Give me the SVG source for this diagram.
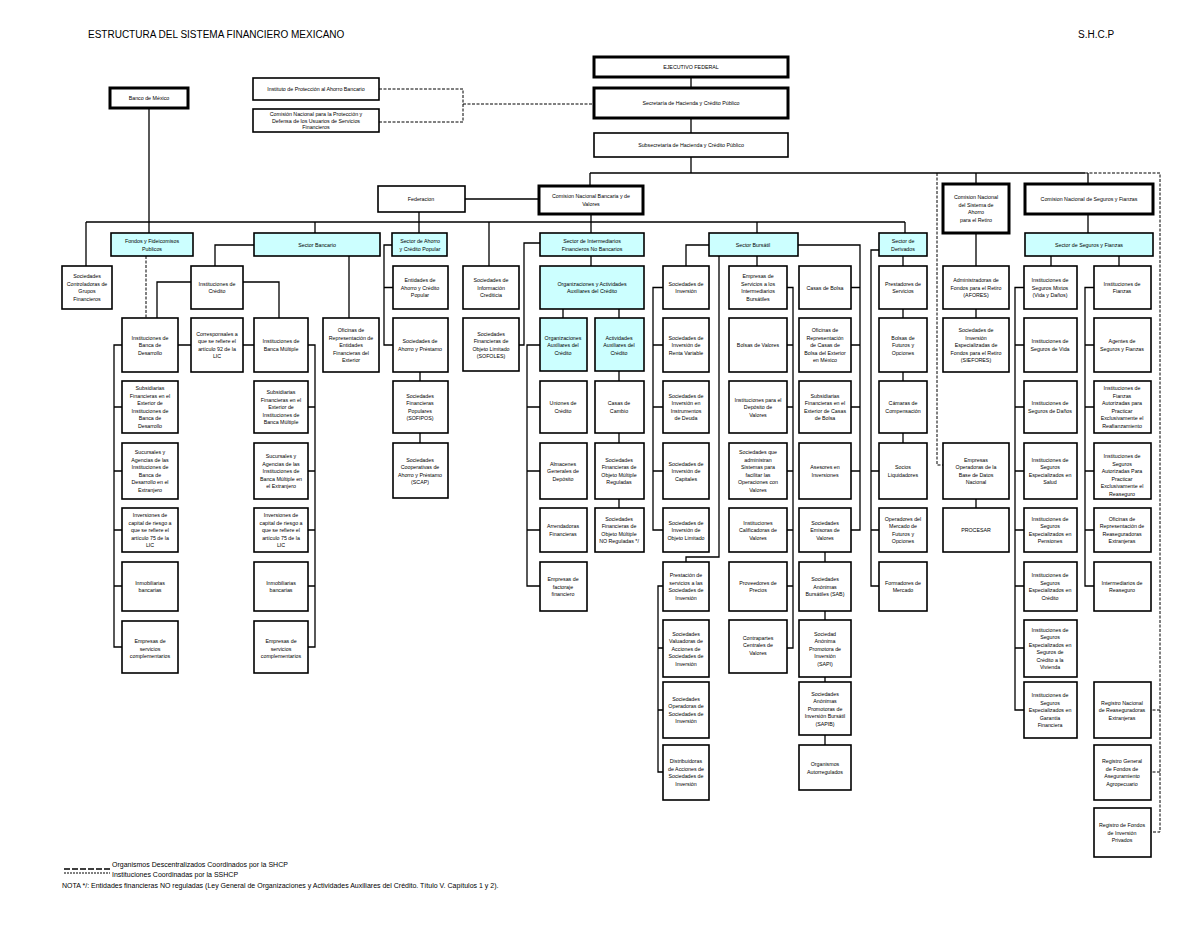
<svg xmlns="http://www.w3.org/2000/svg" width="1200" height="927" viewBox="0 0 1200 927">
<style>
rect{fill:#fff;stroke:#000;stroke-width:1.6}
rect.c{fill:#ccffff}
rect.k{stroke-width:3}
text{font-family:"Liberation Sans",Arial,sans-serif;font-size:5.3px;text-anchor:middle;fill:#000}
.h{font-size:10px;text-anchor:start}
.l{font-size:7px;text-anchor:start}
#conn path{fill:none;stroke:#000;stroke-width:1.3}
#conn path.d{stroke-dasharray:3,1.5;stroke-width:1}
</style>
<rect x="0" y="0" width="1200" height="927" style="fill:#fff;stroke:none"/>
<text class="h" x="88" y="38">ESTRUCTURA DEL SISTEMA FINANCIERO MEXICANO</text>
<text class="h" x="1078" y="38">S.H.C.P</text>
<g id="conn">
<path d="M691,77V88M691,118V133M691,157V173M590,173H1085M590,173V186M976,173V184M1088,173V184M465,199H539M419,212V222M591,214V222M86,222H905M86,222V266M149,108V233M315,222V233M419,222V233M489,222V266M591,222V233M757,222V233M905,222V233"/>
<path class="d" d="M146,256V318M379,89H463V122H379M463,104H594M937,173V465H943M1085,173H1160V832H1151M1160,710H1151M1160,772H1151"/>
<path d="M254,245H215V266M349,256V318M191,282H157V318M241,282H279V318M178,345H191M243,345H254"/>
<path d="M122,345H114V647H122M114,407H122M114,471H122M114,530H122M114,586H122"/>
<path d="M308,345H315V647H308M315,407H308M315,471H308M315,530H308M315,586H308"/>
<path d="M392,245H384V345H393M384,287.5H393M420,372V381M420,433V443"/>
<path d="M540,243H524V345H519M591,256V266M563,309V318M619,309V318M540,345H527V586H540M527,407H540M527,471H540M527,530H540M619,371V381M619,433V443M619,499V508"/>
<path d="M709,245H686V266M663,287.5H653V530H663M653,345H663M653,407H663M653,471H663M719,256V557H686V562M663,586H658V772H663M658,648H663M658,710H663"/>
<path d="M757,256V266M787,287.5H793V648H787M793,345H787M793,407H787M793,471H787M793,530H787M793,586H787"/>
<path d="M798,245H860V530H851M860,287.5H851M860,345H851M860,407H851M860,471H851M825,552V562M825,611V620M825,677V682M825,735V745"/>
<path d="M903,256V266M903,309V318M903,372V381M903,433V443M879,250H871V586H879M871,471H879M871,530H879"/>
<path d="M976,233V266M976,309V318M976,499V508"/>
<path d="M1088,214V233M1051,256V266M1119,256V266M1024,287.5H1015V710H1024M1015,345H1024M1015,407H1024M1015,471H1024M1015,530H1024M1015,586H1024M1015,648H1024M1094,287.5H1085V586H1094M1085,345H1094M1085,407H1094M1085,471H1094M1085,530H1094"/>
</g>
<g id="ejecutivo"><rect class="k" x="594" y="57" width="194" height="20"/><text x="691" y="69">EJECUTIVO FEDERAL</text></g>
<g id="shcp"><rect class="k" x="594" y="88" width="194" height="30"/><text x="691" y="105">Secretaría de Hacienda y Crédito Público</text></g>
<g id="subshcp"><rect x="594" y="133" width="194" height="24"/><text x="691" y="147">Subsecretaría de Hacienda y Crédito Público</text></g>
<g id="ipab"><rect x="253" y="78" width="126" height="22"/><text x="316" y="91">Instituto de Protección al Ahorro Bancario</text></g>
<g id="condusef"><rect x="253" y="109" width="126" height="23"/><text x="316" y="116">Comisión Nacional para la Protección y<tspan x="316" dy="6.5">Defensa de los Usuarios de Servicios</tspan><tspan x="316" dy="6.5">Financieros</tspan></text></g>
<g id="banxico"><rect class="k" x="110" y="88" width="78" height="20"/><text x="149" y="100">Banco de México</text></g>
<g id="federacion"><rect x="378" y="186" width="87" height="26"/><text x="421" y="201">Federacion</text></g>
<g id="cnbv"><rect class="k" x="539" y="186" width="104" height="28"/><text x="591" y="198">Comision Nacional Bancaria y de<tspan x="591" dy="7.5">Valores</tspan></text></g>
<g id="consar"><rect class="k" x="943" y="184" width="66" height="49"/><text x="976" y="199">Comision Nacional<tspan x="976" dy="7.5">del Sistema de</tspan><tspan x="976" dy="7.5">Ahorro</tspan><tspan x="976" dy="7.5">para el Retiro</tspan></text></g>
<g id="cnsf"><rect class="k" x="1025" y="184" width="128" height="30"/><text x="1089" y="201">Comision Nacional de Seguros y Fianzas</text></g>

<g id="fondos"><rect class="c" x="111" y="233" width="82" height="23"/><text x="152" y="243">Fondos y Fideicomisos<tspan x="152" dy="7.5">Publicos</tspan></text></g>
<g id="sbancario"><rect class="c" x="254" y="233" width="126" height="23"/><text x="317" y="247">Sector Bancario</text></g>
<g id="sahorro"><rect class="c" x="392" y="233" width="55" height="23"/><text x="420" y="243">Sector de Ahorro<tspan x="420" dy="7.5">y Crédito Popular</tspan></text></g>
<g id="sinter"><rect class="c" x="540" y="233" width="104" height="23"/><text x="592" y="243">Sector de Intermediarios<tspan x="592" dy="7.5">Financieros No Bancarios</tspan></text></g>
<g id="sbursatil"><rect class="c" x="709" y="233" width="89" height="23"/><text x="753" y="247">Sector Bursátil</text></g>
<g id="sderiv"><rect class="c" x="879" y="233" width="48" height="23"/><text x="903" y="243">Sector de<tspan x="903" dy="7.5">Derivados</tspan></text></g>
<g id="sseguros"><rect class="c" x="1025" y="233" width="128" height="23"/><text x="1089" y="247">Sector de Seguros y Fianzas</text></g>

<g id="controladoras"><rect x="62" y="266" width="50" height="43"/><text x="87" y="278">Sociedades<tspan x="87" dy="7.5">Controladoras de</tspan><tspan x="87" dy="7.5">Grupos</tspan><tspan x="87" dy="7.5">Financieros</tspan></text></g>
<g id="icredito"><rect x="191" y="266" width="52" height="43"/><text x="217" y="285.75">Instituciones de<tspan x="217" dy="7.5">Crédito</tspan></text></g>
<g id="bdesarrollo"><rect x="122" y="318" width="56" height="54"/><text x="150" y="339.5">Instituciones de<tspan x="150" dy="7.5">Banca de</tspan><tspan x="150" dy="7.5">Desarrollo</tspan></text></g>
<g id="corresponsales"><rect x="191" y="318" width="52" height="54"/><text x="217" y="335.75">Corresponsales a<tspan x="217" dy="7.5">que se refiere el</tspan><tspan x="217" dy="7.5">artículo 92 de la</tspan><tspan x="217" dy="7.5">LIC</tspan></text></g>
<g id="bmultiple"><rect x="254" y="318" width="54" height="54"/><text x="281" y="343.25">Instituciones de<tspan x="281" dy="7.5">Banca Múltiple</tspan></text></g>
<g id="oficinasbanc"><rect x="323" y="318" width="56" height="54"/><text x="351" y="332">Oficinas de<tspan x="351" dy="7.5">Representación de</tspan><tspan x="351" dy="7.5">Entidades</tspan><tspan x="351" dy="7.5">Financieras del</tspan><tspan x="351" dy="7.5">Exterior</tspan></text></g>

<g id="bd1"><rect x="122" y="381" width="56" height="52"/><text x="150" y="390.25">Subsidiarias<tspan x="150" dy="7.5">Financieras en el</tspan><tspan x="150" dy="7.5">Exterior de</tspan><tspan x="150" dy="7.5">Instituciones de</tspan><tspan x="150" dy="7.5">Banca de</tspan><tspan x="150" dy="7.5">Desarrollo</tspan></text></g>
<g id="bd2"><rect x="122" y="443" width="56" height="56"/><text x="150" y="454.25">Sucursales y<tspan x="150" dy="7.5">Agencias de las</tspan><tspan x="150" dy="7.5">Instituciones de</tspan><tspan x="150" dy="7.5">Banca de</tspan><tspan x="150" dy="7.5">Desarrollo en el</tspan><tspan x="150" dy="7.5">Extranjero</tspan></text></g>
<g id="bd3"><rect x="122" y="508" width="56" height="44"/><text x="150" y="517">Inversiones de<tspan x="150" dy="7.5">capital de riesgo a</tspan><tspan x="150" dy="7.5">que se refiere el</tspan><tspan x="150" dy="7.5">artículo 75 de la</tspan><tspan x="150" dy="7.5">LIC</tspan></text></g>
<g id="bd4"><rect x="122" y="562" width="56" height="49"/><text x="150" y="584.75">Inmobiliarias<tspan x="150" dy="7.5">bancarias</tspan></text></g>
<g id="bd5"><rect x="122" y="621" width="56" height="52"/><text x="150" y="643">Empresas de<tspan x="150" dy="7.5">servicios</tspan><tspan x="150" dy="7.5">complementarios</tspan></text></g>

<g id="bm1"><rect x="254" y="381" width="54" height="52"/><text x="281" y="394">Subsidiarias<tspan x="281" dy="7.5">Financieras en el</tspan><tspan x="281" dy="7.5">Exterior de</tspan><tspan x="281" dy="7.5">Instituciones de</tspan><tspan x="281" dy="7.5">Banca Múltiple</tspan></text></g>
<g id="bm2"><rect x="254" y="443" width="54" height="56"/><text x="281" y="458">Sucursales y<tspan x="281" dy="7.5">Agencias de las</tspan><tspan x="281" dy="7.5">Instituciones de</tspan><tspan x="281" dy="7.5">Banca Múltiple en</tspan><tspan x="281" dy="7.5">el Extranjero</tspan></text></g>
<g id="bm3"><rect x="254" y="508" width="54" height="44"/><text x="281" y="517">Inversiones de<tspan x="281" dy="7.5">capital de riesgo a</tspan><tspan x="281" dy="7.5">que se refiere el</tspan><tspan x="281" dy="7.5">artículo 75 de la</tspan><tspan x="281" dy="7.5">LIC</tspan></text></g>
<g id="bm4"><rect x="254" y="562" width="54" height="49"/><text x="281" y="584.75">Inmobiliarias<tspan x="281" dy="7.5">bancarias</tspan></text></g>
<g id="bm5"><rect x="254" y="621" width="54" height="52"/><text x="281" y="643">Empresas de<tspan x="281" dy="7.5">servicios</tspan><tspan x="281" dy="7.5">complementarios</tspan></text></g>

<g id="ah1"><rect x="393" y="266" width="55" height="43"/><text x="420" y="282">Entidades de<tspan x="420" dy="7.5">Ahorro y Crédito</tspan><tspan x="420" dy="7.5">Popular</tspan></text></g>
<g id="ah2"><rect x="393" y="318" width="55" height="54"/><text x="420" y="343.25">Sociedades de<tspan x="420" dy="7.5">Ahorro y Préstamo</tspan></text></g>
<g id="ah3"><rect x="393" y="381" width="55" height="52"/><text x="420" y="397.75">Sociedades<tspan x="420" dy="7.5">Financieras</tspan><tspan x="420" dy="7.5">Populares</tspan><tspan x="420" dy="7.5">(SOFIPOS)</tspan></text></g>
<g id="ah4"><rect x="393" y="443" width="55" height="55"/><text x="420" y="461.75">Sociedades<tspan x="420" dy="7.5">Cooperativas de</tspan><tspan x="420" dy="7.5">Ahorro y Préstamo</tspan><tspan x="420" dy="7.5">(SCAP)</tspan></text></g>

<g id="sic"><rect x="463" y="266" width="56" height="43"/><text x="491" y="282">Sociedades de<tspan x="491" dy="7.5">Información</tspan><tspan x="491" dy="7.5">Crediticia</tspan></text></g>
<g id="sofoles"><rect x="463" y="318" width="56" height="53"/><text x="491" y="335.75">Sociedades<tspan x="491" dy="7.5">Financieras de</tspan><tspan x="491" dy="7.5">Objeto Limitado</tspan><tspan x="491" dy="7.5">(SOFOLES)</tspan></text></g>

<g id="orgact"><rect class="c" x="540" y="266" width="104" height="43"/><text x="592" y="285.75">Organizaciones y Actividades<tspan x="592" dy="7.5">Auxiliares del Crédito</tspan></text></g>
<g id="org"><rect class="c" x="540" y="318" width="47" height="53"/><text x="563" y="339.5">Organizaciones<tspan x="563" dy="7.5">Auxiliares del</tspan><tspan x="563" dy="7.5">Crédito</tspan></text></g>
<g id="act"><rect class="c" x="595" y="318" width="49" height="53"/><text x="619" y="339.5">Actividades<tspan x="619" dy="7.5">Auxiliares del</tspan><tspan x="619" dy="7.5">Crédito</tspan></text></g>
<g id="org1"><rect x="540" y="381" width="47" height="52"/><text x="563" y="405.25">Uniones de<tspan x="563" dy="7.5">Crédito</tspan></text></g>
<g id="org2"><rect x="540" y="443" width="47" height="56"/><text x="563" y="465.5">Almacenes<tspan x="563" dy="7.5">Generales de</tspan><tspan x="563" dy="7.5">Depósito</tspan></text></g>
<g id="org3"><rect x="540" y="508" width="47" height="44"/><text x="563" y="528.25">Arrendadoras<tspan x="563" dy="7.5">Financieras</tspan></text></g>
<g id="org4"><rect x="540" y="562" width="47" height="49"/><text x="563" y="581">Empresas de<tspan x="563" dy="7.5">factoraje</tspan><tspan x="563" dy="7.5">financiero</tspan></text></g>
<g id="act1"><rect x="595" y="381" width="49" height="52"/><text x="619" y="405.25">Casas de<tspan x="619" dy="7.5">Cambio</tspan></text></g>
<g id="act2"><rect x="595" y="443" width="49" height="56"/><text x="619" y="461.75">Sociedades<tspan x="619" dy="7.5">Financieras de</tspan><tspan x="619" dy="7.5">Objeto Múltiple</tspan><tspan x="619" dy="7.5">Reguladas</tspan></text></g>
<g id="act3"><rect x="595" y="508" width="49" height="44"/><text x="619" y="520.75">Sociedades<tspan x="619" dy="7.5">Financieras de</tspan><tspan x="619" dy="7.5">Objeto Múltiple</tspan><tspan x="619" dy="7.5">NO Reguladas */</tspan></text></g>

<g id="ba1"><rect x="663" y="266" width="46" height="43"/><text x="686" y="285.75">Sociedades de<tspan x="686" dy="7.5">Inversión</tspan></text></g>
<g id="ba2"><rect x="663" y="318" width="46" height="54"/><text x="686" y="339.5">Sociedades de<tspan x="686" dy="7.5">Inversión de</tspan><tspan x="686" dy="7.5">Renta Variable</tspan></text></g>
<g id="ba3"><rect x="663" y="381" width="46" height="52"/><text x="686" y="397.75">Sociedades de<tspan x="686" dy="7.5">Inversión en</tspan><tspan x="686" dy="7.5">Instrumentos</tspan><tspan x="686" dy="7.5">de Deuda</tspan></text></g>
<g id="ba4"><rect x="663" y="443" width="46" height="56"/><text x="686" y="465.5">Sociedades de<tspan x="686" dy="7.5">Inversión de</tspan><tspan x="686" dy="7.5">Capitales</tspan></text></g>
<g id="ba5"><rect x="663" y="508" width="46" height="44"/><text x="686" y="524.5">Sociedades de<tspan x="686" dy="7.5">Inversión de</tspan><tspan x="686" dy="7.5">Objeto Limitado</tspan></text></g>
<g id="ba6"><rect x="663" y="562" width="46" height="49"/><text x="686" y="577.25">Prestación de<tspan x="686" dy="7.5">servicios a las</tspan><tspan x="686" dy="7.5">Sociedades de</tspan><tspan x="686" dy="7.5">Inversión</tspan></text></g>
<g id="ba7"><rect x="663" y="620" width="46" height="57"/><text x="686" y="635.5">Sociedades<tspan x="686" dy="7.5">Valuadoras de</tspan><tspan x="686" dy="7.5">Acciones de</tspan><tspan x="686" dy="7.5">Sociedades de</tspan><tspan x="686" dy="7.5">Inversión</tspan></text></g>
<g id="ba8"><rect x="663" y="682" width="46" height="56"/><text x="686" y="700.75">Sociedades<tspan x="686" dy="7.5">Operadoras de</tspan><tspan x="686" dy="7.5">Sociedades de</tspan><tspan x="686" dy="7.5">Inversión</tspan></text></g>
<g id="ba9"><rect x="663" y="745" width="46" height="55"/><text x="686" y="763.25">Distribuidoras<tspan x="686" dy="7.5">de Acciones de</tspan><tspan x="686" dy="7.5">Sociedades de</tspan><tspan x="686" dy="7.5">Inversión</tspan></text></g>

<g id="bb1"><rect x="729" y="266" width="58" height="43"/><text x="758" y="278.25">Empresas de<tspan x="758" dy="7.5">Servicios a los</tspan><tspan x="758" dy="7.5">Intermediarios</tspan><tspan x="758" dy="7.5">Bursátiles</tspan></text></g>
<g id="bb2"><rect x="729" y="318" width="58" height="54"/><text x="758" y="347">Bolsas de Valores</text></g>
<g id="bb3"><rect x="729" y="381" width="58" height="52"/><text x="758" y="401.5">Instituciones para el<tspan x="758" dy="7.5">Depósito de</tspan><tspan x="758" dy="7.5">Valores</tspan></text></g>
<g id="bb4"><rect x="729" y="443" width="58" height="56"/><text x="758" y="454.25">Sociedades que<tspan x="758" dy="7.5">administran</tspan><tspan x="758" dy="7.5">Sistemas para</tspan><tspan x="758" dy="7.5">facilitar las</tspan><tspan x="758" dy="7.5">Operaciones con</tspan><tspan x="758" dy="7.5">Valores</tspan></text></g>
<g id="bb5"><rect x="729" y="508" width="58" height="44"/><text x="758" y="524.5">Instituciones<tspan x="758" dy="7.5">Calificadoras de</tspan><tspan x="758" dy="7.5">Valores</tspan></text></g>
<g id="bb6"><rect x="729" y="562" width="58" height="49"/><text x="758" y="584.75">Proveedores de<tspan x="758" dy="7.5">Precios</tspan></text></g>
<g id="bb7"><rect x="729" y="620" width="58" height="53"/><text x="758" y="639.5">Contrapartes<tspan x="758" dy="7.5">Centrales de</tspan><tspan x="758" dy="7.5">Valores</tspan></text></g>

<g id="bc1"><rect x="799" y="266" width="52" height="43"/><text x="825" y="289.5">Casas de Bolsa</text></g>
<g id="bc2"><rect x="799" y="318" width="52" height="54"/><text x="825" y="332">Oficinas de<tspan x="825" dy="7.5">Representación</tspan><tspan x="825" dy="7.5">de Casas de</tspan><tspan x="825" dy="7.5">Bolsa del Exterior</tspan><tspan x="825" dy="7.5">en México</tspan></text></g>
<g id="bc3"><rect x="799" y="381" width="52" height="52"/><text x="825" y="397.75">Subsidiarias<tspan x="825" dy="7.5">Financieras en el</tspan><tspan x="825" dy="7.5">Exterior de Casas</tspan><tspan x="825" dy="7.5">de Bolsa</tspan></text></g>
<g id="bc4"><rect x="799" y="443" width="52" height="56"/><text x="825" y="469.25">Asesores en<tspan x="825" dy="7.5">Inversiones</tspan></text></g>
<g id="bc5"><rect x="799" y="508" width="52" height="44"/><text x="825" y="524.5">Sociedades<tspan x="825" dy="7.5">Emisoras de</tspan><tspan x="825" dy="7.5">Valores</tspan></text></g>
<g id="bc6"><rect x="799" y="562" width="52" height="49"/><text x="825" y="581">Sociedades<tspan x="825" dy="7.5">Anónimas</tspan><tspan x="825" dy="7.5">Bursátiles (SAB)</tspan></text></g>
<g id="bc7"><rect x="799" y="620" width="52" height="57"/><text x="825" y="635.5">Sociedad<tspan x="825" dy="7.5">Anónima</tspan><tspan x="825" dy="7.5">Promotora de</tspan><tspan x="825" dy="7.5">Inversión</tspan><tspan x="825" dy="7.5">(SAPI)</tspan></text></g>
<g id="bc8"><rect x="799" y="682" width="52" height="53"/><text x="825" y="695.5">Sociedades<tspan x="825" dy="7.5">Anónimas</tspan><tspan x="825" dy="7.5">Promotoras de</tspan><tspan x="825" dy="7.5">Inversión Bursátil</tspan><tspan x="825" dy="7.5">(SAPIB)</tspan></text></g>
<g id="bc9"><rect x="799" y="745" width="52" height="45"/><text x="825" y="766">Organismos<tspan x="825" dy="7.5">Autorregulados</tspan></text></g>

<g id="d1"><rect x="879" y="266" width="48" height="43"/><text x="903" y="285.75">Prestadores de<tspan x="903" dy="7.5">Servicios</tspan></text></g>
<g id="d2"><rect x="879" y="318" width="48" height="54"/><text x="903" y="339.5">Bolsas de<tspan x="903" dy="7.5">Futuros y</tspan><tspan x="903" dy="7.5">Opciones</tspan></text></g>
<g id="d3"><rect x="879" y="381" width="48" height="52"/><text x="903" y="405.25">Cámaras de<tspan x="903" dy="7.5">Compensación</tspan></text></g>
<g id="d4"><rect x="879" y="443" width="48" height="56"/><text x="903" y="469.25">Socios<tspan x="903" dy="7.5">Liquidadores</tspan></text></g>
<g id="d5"><rect x="879" y="508" width="48" height="44"/><text x="903" y="520.75">Operadores del<tspan x="903" dy="7.5">Mercado de</tspan><tspan x="903" dy="7.5">Futuros y</tspan><tspan x="903" dy="7.5">Opciones</tspan></text></g>
<g id="d6"><rect x="879" y="562" width="48" height="49"/><text x="903" y="584.75">Formadores de<tspan x="903" dy="7.5">Mercado</tspan></text></g>

<g id="afores"><rect x="943" y="266" width="66" height="43"/><text x="976" y="282">Administradoras de<tspan x="976" dy="7.5">Fondos para el Retiro</tspan><tspan x="976" dy="7.5">(AFORES)</tspan></text></g>
<g id="siefores"><rect x="943" y="318" width="66" height="54"/><text x="976" y="332">Sociedades de<tspan x="976" dy="7.5">Inversión</tspan><tspan x="976" dy="7.5">Especializadas de</tspan><tspan x="976" dy="7.5">Fondos para el Retiro</tspan><tspan x="976" dy="7.5">(SIEFORES)</tspan></text></g>
<g id="empresasbd"><rect x="943" y="443" width="66" height="56"/><text x="976" y="461.75">Empresas<tspan x="976" dy="7.5">Operadoras de la</tspan><tspan x="976" dy="7.5">Base de Datos</tspan><tspan x="976" dy="7.5">Nacional</tspan></text></g>
<g id="procesar"><rect x="943" y="508" width="66" height="44"/><text x="976" y="532">PROCESAR</text></g>

<g id="sa1"><rect x="1024" y="266" width="53" height="43"/><text x="1050" y="282">Instituciones de<tspan x="1050" dy="7.5">Seguros Mixtos</tspan><tspan x="1050" dy="7.5">(Vida y Daños)</tspan></text></g>
<g id="sa2"><rect x="1024" y="318" width="53" height="54"/><text x="1050" y="343.25">Instituciones de<tspan x="1050" dy="7.5">Seguros de Vida</tspan></text></g>
<g id="sa3"><rect x="1024" y="381" width="53" height="52"/><text x="1050" y="405.25">Instituciones de<tspan x="1050" dy="7.5">Seguros de Daños</tspan></text></g>
<g id="sa4"><rect x="1024" y="443" width="53" height="56"/><text x="1050" y="461.75">Instituciones de<tspan x="1050" dy="7.5">Seguros</tspan><tspan x="1050" dy="7.5">Especializados en</tspan><tspan x="1050" dy="7.5">Salud</tspan></text></g>
<g id="sa5"><rect x="1024" y="508" width="53" height="44"/><text x="1050" y="520.75">Instituciones de<tspan x="1050" dy="7.5">Seguros</tspan><tspan x="1050" dy="7.5">Especializados en</tspan><tspan x="1050" dy="7.5">Pensiones</tspan></text></g>
<g id="sa6"><rect x="1024" y="562" width="53" height="49"/><text x="1050" y="577.25">Instituciones de<tspan x="1050" dy="7.5">Seguros</tspan><tspan x="1050" dy="7.5">Especializados en</tspan><tspan x="1050" dy="7.5">Crédito</tspan></text></g>
<g id="sa7"><rect x="1024" y="620" width="53" height="57"/><text x="1050" y="631.75">Instituciones de<tspan x="1050" dy="7.5">Seguros</tspan><tspan x="1050" dy="7.5">Especializados en</tspan><tspan x="1050" dy="7.5">Seguros de</tspan><tspan x="1050" dy="7.5">Crédito a la</tspan><tspan x="1050" dy="7.5">Vivienda</tspan></text></g>
<g id="sa8"><rect x="1024" y="682" width="53" height="56"/><text x="1050" y="697">Instituciones de<tspan x="1050" dy="7.5">Seguros</tspan><tspan x="1050" dy="7.5">Especializados en</tspan><tspan x="1050" dy="7.5">Garantía</tspan><tspan x="1050" dy="7.5">Financiera</tspan></text></g>

<g id="sb1"><rect x="1094" y="266" width="57" height="43"/><text x="1122" y="285.75">Instituciones de<tspan x="1122" dy="7.5">Fianzas</tspan></text></g>
<g id="sb2"><rect x="1094" y="318" width="57" height="54"/><text x="1122" y="343.25">Agentes de<tspan x="1122" dy="7.5">Seguros y Fianzas</tspan></text></g>
<g id="sb3"><rect x="1094" y="381" width="57" height="52"/><text x="1122" y="390.25">Instituciones de<tspan x="1122" dy="7.5">Fianzas</tspan><tspan x="1122" dy="7.5">Autorizadas para</tspan><tspan x="1122" dy="7.5">Practicar</tspan><tspan x="1122" dy="7.5">Exclusivamente el</tspan><tspan x="1122" dy="7.5">Reafianzamiento</tspan></text></g>
<g id="sb4"><rect x="1094" y="443" width="57" height="56"/><text x="1122" y="458">Instituciones de<tspan x="1122" dy="7.5">Seguros</tspan><tspan x="1122" dy="7.5">Autorizadas Para</tspan><tspan x="1122" dy="7.5">Practicar</tspan><tspan x="1122" dy="7.5">Exclusivamente el</tspan><tspan x="1122" dy="7.5">Reaseguro</tspan></text></g>
<g id="sb5"><rect x="1094" y="508" width="57" height="44"/><text x="1122" y="520.75">Oficinas de<tspan x="1122" dy="7.5">Representación de</tspan><tspan x="1122" dy="7.5">Reaseguradoras</tspan><tspan x="1122" dy="7.5">Extranjeras</tspan></text></g>
<g id="sb6"><rect x="1094" y="562" width="57" height="49"/><text x="1122" y="584.75">Intermediarios de<tspan x="1122" dy="7.5">Reaseguro</tspan></text></g>
<g id="reg1"><rect x="1094" y="682" width="57" height="56"/><text x="1122" y="704.5">Registro Nacional<tspan x="1122" dy="7.5">de Reaseguradoras</tspan><tspan x="1122" dy="7.5">Extranjeras</tspan></text></g>
<g id="reg2"><rect x="1094" y="745" width="57" height="55"/><text x="1122" y="763.25">Registro General<tspan x="1122" dy="7.5">de Fondos de</tspan><tspan x="1122" dy="7.5">Aseguramiento</tspan><tspan x="1122" dy="7.5">Agropecuario</tspan></text></g>
<g id="reg3"><rect x="1094" y="808" width="57" height="49"/><text x="1122" y="827">Registro de Fondos<tspan x="1122" dy="7.5">de Inversión</tspan><tspan x="1122" dy="7.5">Privados</tspan></text></g>

<g id="legend">
<line x1="64" y1="869" x2="110" y2="869" stroke="#000" stroke-width="1.5" stroke-dasharray="6,2"/>
<line x1="64" y1="873" x2="110" y2="873" stroke="#000" stroke-width="1" stroke-dasharray="2,1"/>
<text class="l" x="112" y="867">Organismos Descentralizados Coordinados por la SHCP</text>
<text class="l" x="112" y="877">Instituciones Coordinadas por la SSHCP</text>
<text class="l" x="62" y="888">NOTA */: Entidades financieras NO reguladas (Ley General de Organizaciones y Actividades Auxiliares del Crédito. Título V. Capítulos 1 y 2).</text>
</g>
</svg>
